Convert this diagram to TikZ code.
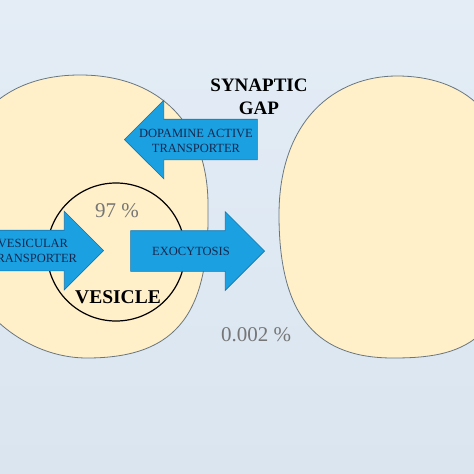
\documentclass[tikz,border=0pt]{standalone}
\usepackage{fontspec}
\setmainfont{Liberation Serif}
\usetikzlibrary{shapes.arrows,positioning}
\definecolor{sfondoalto}{RGB}{228,237,246}
\definecolor{sfondobasso}{RGB}{218,229,240}
\definecolor{giallo}{RGB}{255,240,201}
\definecolor{bordocella}{RGB}{105,118,128}
\definecolor{azzurro}{RGB}{27,161,226}
\definecolor{bordofreccia}{RGB}{22,118,176}
\definecolor{testofreccia}{RGB}{22,40,78}
\definecolor{grigio}{RGB}{118,118,118}
\begin{document}
\begin{tikzpicture}[x=1pt,y=-1pt,
  cellula/.style={draw=bordocella,fill=giallo,line width=0.8pt},
  freccia/.style={single arrow,draw=bordofreccia,fill=azzurro,line width=0.6pt,
    minimum width=78pt,single arrow head extend=19pt,inner xsep=0pt,inner ysep=20pt,anchor=tip},
  scritta/.style={align=center,inner sep=0pt,text=testofreccia,font=\fontsize{12.5}{15}\selectfont},
  percento/.style={text=grigio,font=\fontsize{21}{24}\selectfont,anchor=base},
  titolo/.style={font=\bfseries\fontsize{19}{23}\selectfont,align=center,inner sep=0pt}]
% Definisci le variabili
\def\lato{474}  % Lato del disegno
\def\rvesc{69}  % Raggio della vescicola

% Sfondo
\useasboundingbox (0,0) rectangle (\lato,\lato);
\clip (0,0) rectangle (\lato,\lato);
\fill[top color=sfondoalto,bottom color=sfondobasso] (0,0) rectangle (\lato,\lato);

% Le due cellule (la prima e la seconda)
\path[cellula] (80,75) .. controls (160,75) and (208,125) .. (208,205)
  .. controls (210,310) and (180,358) .. (87,358)
  .. controls (20,358) and (-48,300) .. (-48,215)
  .. controls (-48,125) and (0,75) .. cycle;
\path[cellula] (397,76) .. controls (335,76) and (279,120) .. (279,215)
  .. controls (279,320) and (320,358) .. (393,358)
  .. controls (460,358) and (515,345) .. (515,215)
  .. controls (515,110) and (460,76) .. cycle;

% Vescicola
\node[draw,circle,line width=1.2pt,minimum size=2*\rvesc pt,inner sep=0pt] (vescicola) at (116,252) {};
\node[percento] (cento) at (117,217) {97 \%};
\node[font=\bfseries\fontsize{19.5}{22}\selectfont,anchor=base] (nomevesc) at (118,303) {VESICLE};

% Frecce
\node[freccia,shape border rotate=180,minimum height=133pt] (dat) at (124,139.5) {};
\node[freccia,minimum height=144pt] (vmat) at (104,250.5) {};
\node[freccia,minimum height=134pt] (exo) at (265,251) {};
\node[scritta] (dattesto) at (196,141.4) {DOPAMINE ACTIVE\\TRANSPORTER};
\node[scritta] (vmattesto) at (33,251) {VESICULAR\\TRANSPORTER};
\node[scritta] (exotesto) at (191,251) {EXOCYTOSIS};

% Testi
\node[titolo] (gap) at (259,97) {SYNAPTIC\\GAP};
\node[percento] (fessura) at (256,341) {0.002 \%};

\end{tikzpicture}
\end{document}
